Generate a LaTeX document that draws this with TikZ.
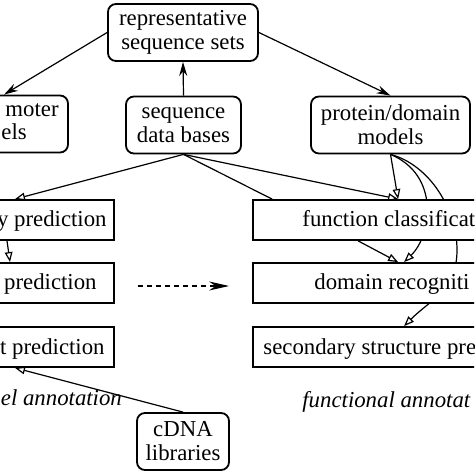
\documentclass[tikz,border=0pt]{standalone}
\usepackage{fontspec}
\setmainfont{Liberation Serif}
\usetikzlibrary{arrows.meta,backgrounds}

\begin{document}
\begin{tikzpicture}[x=0.5pt, y=-0.5pt,
  every node/.style={font=\fontsize{11.4}{12}\selectfont},
  dbbox/.style={draw, line width=0.9pt, rounded corners=4pt, fill=white, inner sep=0pt, minimum height=28.5pt, align=center},
  taskbox/.style={draw, line width=0.9pt, fill=white, inner sep=0pt, minimum height=20pt},
  txt/.style={inner sep=0pt},
  itxt/.style={inner sep=0pt, font=\fontsize{11.4}{12}\selectfont\itshape},
  link/.style={line width=0.6pt},
  openarr/.style={link, -{Triangle[open, length=5pt, width=3.8pt]}},
  fullarr/.style={link, -{Stealth[length=7pt, width=4pt]}}]

% frame of the visible part
\useasboundingbox (0,0) rectangle (474,474);
\clip (0,0) rectangle (474,474);

% sources and models
\node [dbbox, minimum width=75pt] (rep) at (183,32.5) {representative\\sequence sets};
\node [dbbox, minimum width=64pt] (prom) at (4,124) {};
\node [txt, anchor=base west] (promA) at (5,117) {moter};
\node [txt, anchor=base west] (promB) at (1,140) {els};
\node [dbbox, minimum width=57.5pt] (seqdb) at (183.5,125) {sequence\\data bases};
\node [dbbox, minimum width=79.5pt] (prot) at (390.5,125) {protein/domain\\models};
\node [dbbox, minimum width=46pt] (cdna) at (183,441.5) {cDNA\\libraries};

% left column
\node [taskbox, minimum width=107pt] (lb1) at (7,220) {};
\node [taskbox, minimum width=107pt] (lb2) at (7,283) {};
\node [taskbox, minimum width=107pt] (lb3) at (7,347) {};
\node [txt, anchor=base east] (lb1txt) at (107,227) {y prediction};
\node [txt, anchor=base east] (lb2txt) at (97,290) {prediction};
\node [txt, anchor=base east] (lb3txt) at (105,354) {t prediction};
\node [itxt, anchor=base west] (genelbl) at (0.5,405) {el annotation};

% right column
\node [taskbox, minimum width=153.5pt] (rb1) at (406.5,220) {};
\node [taskbox, minimum width=153.5pt] (rb2) at (406.5,283) {};
\node [taskbox, minimum width=153.5pt] (rb3) at (406.5,347) {};
\node [txt, anchor=base west] (rb1txt) at (302,227) {function classificat};
\node [txt, anchor=base west] (rb2txt) at (314,290) {domain recogniti};
\node [txt, anchor=base west] (rb3txt) at (263,354) {secondary structure pre};
\node [itxt, anchor=base west] (funclbl) at (302,407) {functional annotat};

% connectors, behind the boxes
\begin{pgfonlayer}{background}
\draw [fullarr] (rep.west) -- (prom.north);
\draw [fullarr] (rep.east) -- (prot.north);
\draw [fullarr] (seqdb.north) -- (rep.south);

\draw [openarr] (seqdb.south) -- ([xshift=4pt]lb1.north);
\draw [link] (seqdb.south) -- ([xshift=10pt]rb1.north west);
\draw [openarr] (seqdb.south) -- ([xshift=73pt]rb1.north west);
\draw [openarr] (prot.south) -- ([xshift=73pt]rb1.north west);
\draw [openarr] ([xshift=53pt]rb1.south west) -- ([xshift=73pt]rb2.north west);
\draw [openarr] (lb1.south) -- ([xshift=1.5pt]lb2.north);
\draw [openarr] (cdna.north) -- ([xshift=4pt]lb3.south);

% models reach the lower levels
\draw [openarr] (prot.south) .. controls (440,175) and (432,235) .. ([xshift=76pt]rb2.north west);
\draw [openarr] (prot.south) .. controls (430,165) and (457,210) .. (457,250)
  .. controls (457,290) and (430,300) .. ([xshift=76pt]rb3.north west);

\draw [link, line width=0.7pt, dash pattern=on 2.5pt off 2pt, -{Stealth[length=10pt, width=4.5pt]}]
  ([xshift=11.5pt, yshift=-1.5pt]lb2.east) -- ([xshift=-11.5pt, yshift=-1.5pt]rb2.west);
\end{pgfonlayer}

\end{tikzpicture}
\end{document}
